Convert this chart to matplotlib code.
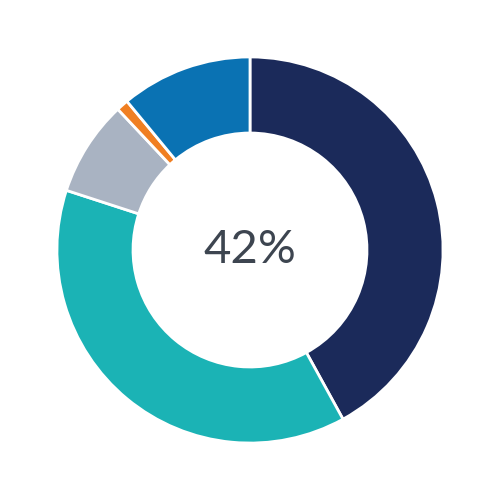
import matplotlib.pyplot as plt

labels = ['Navy', 'Teal', 'Gray', 'Orange', 'Blue']
values = [42, 38, 8, 1, 11]
colors = ['#1b2a5a', '#1bb3b5', '#a9b3c2', '#f07f22', '#0a72b3']
center_label = '42%'

fig = plt.figure(figsize=(5, 5), dpi=100)
ax = fig.add_axes([0, 0, 1, 1])
ax.pie(values, colors=colors, startangle=90, counterclock=False,
       radius=1.0,
       wedgeprops=dict(width=0.394, edgecolor='white', linewidth=2))
ax.text(0, 0.0, center_label, ha='center', va='center', fontsize=34,
        color='#3d4550', family=['Lato', 'DejaVu Sans'], fontweight='normal')
ax.set_xlim(-1.295, 1.295)
ax.set_ylim(-1.295, 1.295)
ax.set_aspect('equal')
ax.axis('off')
fig.savefig('out.png', dpi=100, facecolor='white')
